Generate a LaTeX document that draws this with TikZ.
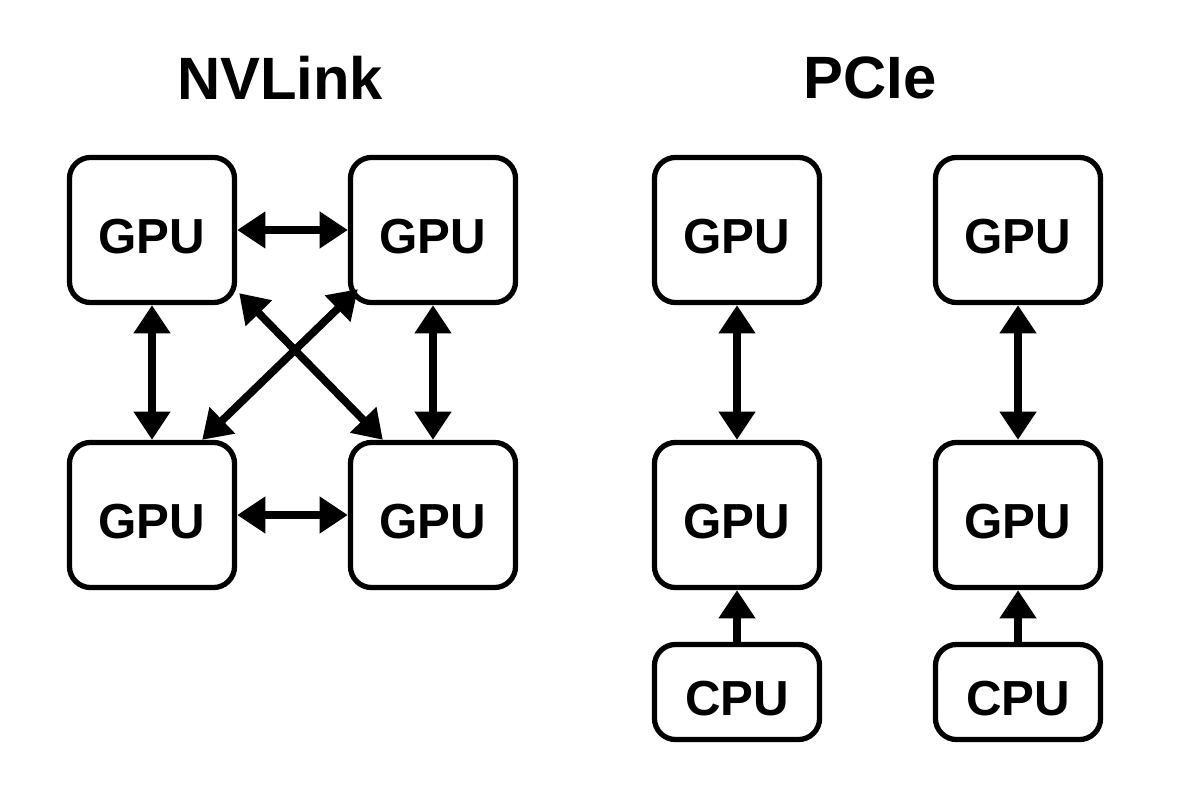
\documentclass[tikz,border=0pt]{standalone}
\usepackage{fontspec}
\setmainfont{Liberation Sans}
\usetikzlibrary{arrows.meta}
\begin{document}
\begin{tikzpicture}[x=0.01cm,y=-0.01cm,
  box/.style={draw,line width=1.5pt,rounded corners=6pt,minimum width=1.65cm,
    minimum height=1.45cm,text height=0.46cm,text depth=0pt,font=\fontsize{14}{16}\bfseries},
  cpu/.style={box,minimum height=0.95cm},
  title/.style={font=\fontsize{17}{20}\bfseries},
  link/.style={line width=2.2pt,{Triangle[length=8pt,width=10pt]}-{Triangle[length=8pt,width=10pt]}},
  up/.style={line width=2.2pt,-{Triangle[length=8pt,width=10pt]}}]
\useasboundingbox (0,0) rectangle (1200,800);
\node[title] (tn) at (280,78) {NVLink};
\node[title] (tp) at (870,78) {PCIe};
\node[box] (a) at (152,230) {GPU};
\node[box] (b) at (433,230) {GPU};
\node[box] (c) at (152,515) {GPU};
\node[box] (d) at (433,515) {GPU};
\node[box] (p1) at (737,230) {GPU};
\node[box] (p2) at (737,515) {GPU};
\node[cpu] (c1) at (737,692) {CPU};
\node[box] (q1) at (1018,230) {GPU};
\node[box] (q2) at (1018,515) {GPU};
\node[cpu] (c2) at (1018,692) {CPU};
\draw[link] (a) -- (b);
\draw[link] (c) -- (d);
\draw[link] (a) -- (c);
\draw[link] (b) -- (d);
\draw[link] ([shift={(2,-12)}]a.south east) -- ([xshift=0.35cm]d.north west);
\draw[link] ([shift={(10,-16)}]b.south west) -- ([xshift=-0.35cm]c.north east);
\draw[link] (p1) -- (p2);
\draw[link] (q1) -- (q2);
\draw[up] (c1) -- (p2);
\draw[up] (c2) -- (q2);
\end{tikzpicture}
\end{document}
